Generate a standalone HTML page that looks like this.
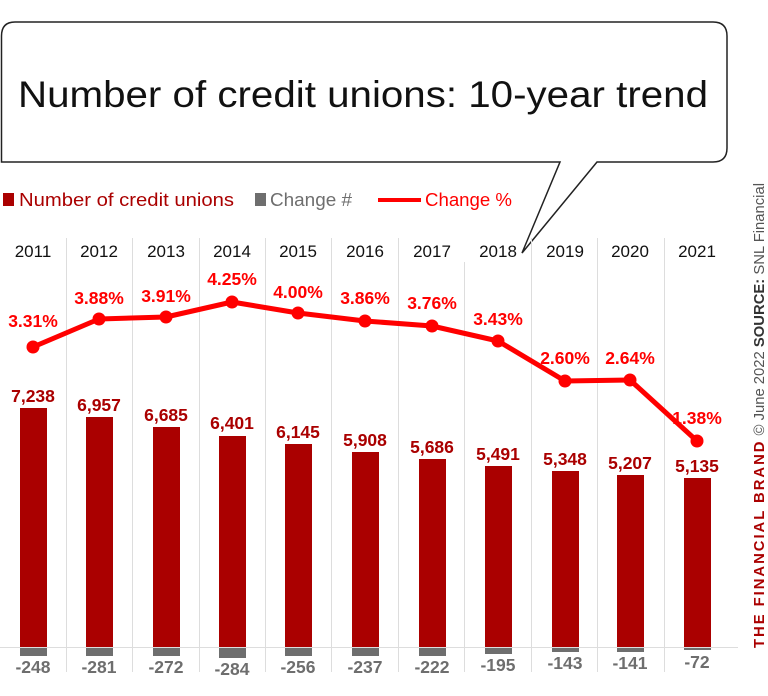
<!DOCTYPE html>
<html><head><meta charset="utf-8"><style>
html,body{margin:0;padding:0;background:#fff}
svg{display:block}
text{font-family:"Liberation Sans",sans-serif}
</style></head><body>
<svg width="768" height="696" viewBox="0 0 768 696" xmlns="http://www.w3.org/2000/svg">
<path d="M1.5 36 Q1.5 22 15 22 L713 22 Q727 22 727 36 L727 148 Q727 162 713 162 L597 162 L522 253 L560 162 L1.5 162 Z" fill="#fff" stroke="#222" stroke-width="1.5"/>
<text x="363" y="107" font-size="37" text-anchor="middle" fill="#111" textLength="690" lengthAdjust="spacingAndGlyphs">Number of credit unions: 10-year trend</text>
<rect x="3" y="193" width="11" height="13" fill="#aa0000"/>
<text x="19" y="206" font-size="18" fill="#aa0000" textLength="215" lengthAdjust="spacingAndGlyphs">Number of credit unions</text>
<rect x="255" y="193" width="11" height="13" fill="#6e6e6e"/>
<text x="270" y="206" font-size="18" fill="#6e6e6e" textLength="82" lengthAdjust="spacingAndGlyphs">Change #</text>
<rect x="378" y="198" width="43" height="4" fill="#ff0000"/>
<text x="425" y="206" font-size="18" fill="#ff0000" textLength="87" lengthAdjust="spacingAndGlyphs">Change %</text>
<g stroke="#ddd" stroke-width="1">
<line x1="66.5" y1="238" x2="66.5" y2="672"/><line x1="132.5" y1="238" x2="132.5" y2="672"/><line x1="199.5" y1="238" x2="199.5" y2="672"/><line x1="265.5" y1="238" x2="265.5" y2="672"/><line x1="331.5" y1="238" x2="331.5" y2="672"/><line x1="398.5" y1="238" x2="398.5" y2="672"/><line x1="464.5" y1="262" x2="464.5" y2="672"/><line x1="531.5" y1="238" x2="531.5" y2="672"/><line x1="597.5" y1="238" x2="597.5" y2="672"/><line x1="664.5" y1="238" x2="664.5" y2="672"/>
<line x1="0" y1="647.5" x2="738" y2="647.5"/>
</g>
<g font-size="17" fill="#111" text-anchor="middle">
<text x="33" y="257">2011</text><text x="99" y="257">2012</text><text x="166" y="257">2013</text><text x="232" y="257">2014</text><text x="298" y="257">2015</text><text x="365" y="257">2016</text><text x="432" y="257">2017</text><text x="498" y="257">2018</text><text x="565" y="257">2019</text><text x="630" y="257">2020</text><text x="697" y="257">2021</text>
</g>
<g fill="#aa0000">
<rect x="20" y="408" width="27" height="239"/>
<rect x="86" y="417" width="27" height="230"/>
<rect x="153" y="427" width="27" height="220"/>
<rect x="219" y="436" width="27" height="211"/>
<rect x="285" y="444" width="27" height="203"/>
<rect x="352" y="452" width="27" height="195"/>
<rect x="419" y="459" width="27" height="188"/>
<rect x="485" y="466" width="27" height="181"/>
<rect x="552" y="471" width="27" height="176"/>
<rect x="617" y="475" width="27" height="172"/>
<rect x="684" y="478" width="27" height="169"/>
</g>
<g fill="#6e6e6e">
<rect x="20" y="648" width="27" height="8"/>
<rect x="86" y="648" width="27" height="8"/>
<rect x="153" y="648" width="27" height="8"/>
<rect x="219" y="648" width="27" height="10"/>
<rect x="285" y="648" width="27" height="8"/>
<rect x="352" y="648" width="27" height="8"/>
<rect x="419" y="648" width="27" height="8"/>
<rect x="485" y="648" width="27" height="6"/>
<rect x="552" y="648" width="27" height="4"/>
<rect x="617" y="648" width="27" height="4"/>
<rect x="684" y="648" width="27" height="2"/>
</g>
<g font-size="17.5" font-weight="bold" fill="#aa0000" text-anchor="middle">
<text x="33" y="402">7,238</text><text x="99" y="411">6,957</text><text x="166" y="421">6,685</text><text x="232" y="429">6,401</text><text x="298" y="438">6,145</text><text x="365" y="446">5,908</text><text x="432" y="453">5,686</text><text x="498" y="460">5,491</text><text x="565" y="465">5,348</text><text x="630" y="469">5,207</text><text x="697" y="472">5,135</text>
</g>
<g font-size="17.5" font-weight="bold" fill="#6e6e6e" text-anchor="middle">
<text x="33" y="673">-248</text><text x="99" y="673">-281</text><text x="166" y="673">-272</text><text x="232" y="675">-284</text><text x="298" y="673">-256</text><text x="365" y="673">-237</text><text x="432" y="673">-222</text><text x="498" y="671">-195</text><text x="565" y="669">-143</text><text x="630" y="669">-141</text><text x="697" y="668">-72</text>
</g>
<polyline points="33,347 99,319 166,317 232,302 298,313 365,321 432,326 498,341 565,381 630,380 697,441" fill="none" stroke="#ff0000" stroke-width="5" stroke-linejoin="round"/>
<g fill="#ff0000">
<circle cx="33" cy="347" r="6.5"/><circle cx="99" cy="319" r="6.5"/><circle cx="166" cy="317" r="6.5"/><circle cx="232" cy="302" r="6.5"/><circle cx="298" cy="313" r="6.5"/><circle cx="365" cy="321" r="6.5"/><circle cx="432" cy="326" r="6.5"/><circle cx="498" cy="341" r="6.5"/><circle cx="565" cy="381" r="6.5"/><circle cx="630" cy="380" r="6.5"/><circle cx="697" cy="441" r="6.5"/>
</g>
<g font-size="17.5" font-weight="bold" fill="#ff0000" text-anchor="middle">
<text x="33" y="327">3.31%</text><text x="99" y="304">3.88%</text><text x="166" y="302">3.91%</text><text x="232" y="285">4.25%</text><text x="298" y="298">4.00%</text><text x="365" y="304">3.86%</text><text x="432" y="309">3.76%</text><text x="498" y="325">3.43%</text><text x="565" y="364">2.60%</text><text x="630" y="364">2.64%</text><text x="697" y="424">1.38%</text>
</g>
<text transform="translate(764,648) rotate(-90)" font-size="15" textLength="465" lengthAdjust="spacingAndGlyphs"><tspan fill="#aa0000" font-weight="bold" letter-spacing="2">THE FINANCIAL BRAND</tspan><tspan fill="#555"> © June 2022 </tspan><tspan fill="#333" font-weight="bold">SOURCE:</tspan><tspan fill="#555"> SNL Financial</tspan></text>
</svg>
</body></html>
